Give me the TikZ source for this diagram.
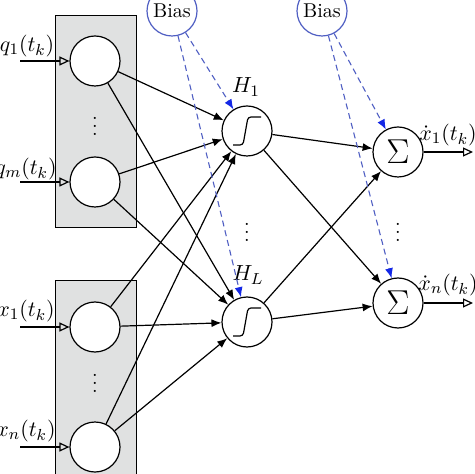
\documentclass[tikz,border=0pt]{standalone}
\usetikzlibrary{arrows.meta}
\definecolor{biasblue}{RGB}{80,95,195}
\definecolor{tipblue}{RGB}{20,40,230}
\definecolor{boxgray}{RGB}{224,225,225}
\begin{document}
\begin{tikzpicture}[x=0.5pt,y=-0.5pt,
  neuron/.style={circle,draw,fill=white,minimum size=25pt,inner sep=0pt,line width=0.6pt},
  sig/.style={neuron,path picture={\draw[line width=0.6pt,rounded corners=1.5pt]
     ([shift={(-7pt,-7pt)}]path picture bounding box.center) -- ++(5pt,0pt) -- ++(2.5pt,14pt) -- ++(6.5pt,0pt);}},
  biasnode/.style={circle,draw=biasblue,fill=white,minimum size=25pt,inner sep=0pt,line width=0.6pt},
  conn/.style={-{Latex[length=5pt,width=4pt]},line width=0.6pt},
  biasarrow/.style={draw=biasblue,dash pattern=on 3pt off 2pt,line width=0.55pt,
     -{Latex[length=5pt,width=4pt,color=tipblue]}},
  inarrow/.style={-{Triangle[open,length=5pt,width=4.5pt]},line width=0.6pt},
  grp/.style={draw,fill=boxgray,line width=0.5pt},
  lbl/.style={inner sep=0pt,font=\fontsize{11}{13}\selectfont}
]
\useasboundingbox (0,0) rectangle (474,474);
\clip (0,0) rectangle (474,474);

% groups
\draw[grp] (55,16) rectangle (136,228);
\draw[grp] (55,281) rectangle (136,500);

% input neurons
\node[neuron] (q1) at (95,61) {};
\node[neuron] (qm) at (95,182) {};
\node[neuron] (x1) at (95,327) {};
\node[neuron] (xn) at (95,447) {};
\node[inner sep=0pt] (d1) at (95,120) {$\vdots$};
\node[inner sep=0pt] (d2) at (95,377) {$\vdots$};

% input coordinates and labels
\coordinate (iq1) at (20,61);
\coordinate (iqm) at (20,182);
\coordinate (ix1) at (20,327);
\coordinate (ixn) at (20,447);
\node[lbl] (lq1) at (27,46) {$q_1(t_k)$};
\node[lbl] (lqm) at (26,169) {$q_m(t_k)$};
\node[lbl] (lx1) at (26,311) {$x_1(t_k)$};
\node[lbl] (lxn) at (26,431) {$x_n(t_k)$};

% bias
\node[biasnode] (b1) at (172,11) {Bias};
\node[biasnode] (b2) at (322,11) {Bias};

% hidden
\node[sig] (H1) at (247,131) {};
\node[sig] (HL) at (247,322) {};
\node[lbl] (lH1) at (246,87) {$H_1$};
\node[lbl] (lHL) at (248,275) {$H_L$};
\node[inner sep=0pt] (d3) at (247,226) {$\vdots$};

% outputs
\node[neuron] (S1) at (398,152) {\LARGE$\Sigma$};
\node[neuron] (Sn) at (398,303) {\LARGE$\Sigma$};
\node[inner sep=0pt] (d4) at (398,226) {$\vdots$};
\coordinate (o1) at (473,152);
\coordinate (on) at (473,303);
\node[lbl] (lo1) at (448,135) {$\dot x_1(t_k)$};
\node[lbl] (lon) at (448,285) {$\dot x_n(t_k)$};

% input arrows
\draw[inarrow] (iq1) -- (q1);
\draw[inarrow] (iqm) -- (qm);
\draw[inarrow] (ix1) -- (x1);
\draw[inarrow] (ixn) -- (xn);

% input -> hidden
\foreach \s in {q1,qm,x1,xn}{
  \draw[conn] (\s) -- (H1);
  \draw[conn] (\s) -- (HL);
}
% hidden -> output
\foreach \h in {H1,HL}{
  \draw[conn] (\h) -- (S1);
  \draw[conn] (\h) -- (Sn);
}
% bias arrows
\draw[biasarrow] (b1) -- (H1);
\draw[biasarrow] (b1) -- (HL);
\draw[biasarrow] (b2) -- (S1);
\draw[biasarrow] (b2) -- (Sn);

% output arrows
\draw[inarrow] (S1) -- (o1);
\draw[inarrow] (Sn) -- (on);
\end{tikzpicture}
\end{document}
